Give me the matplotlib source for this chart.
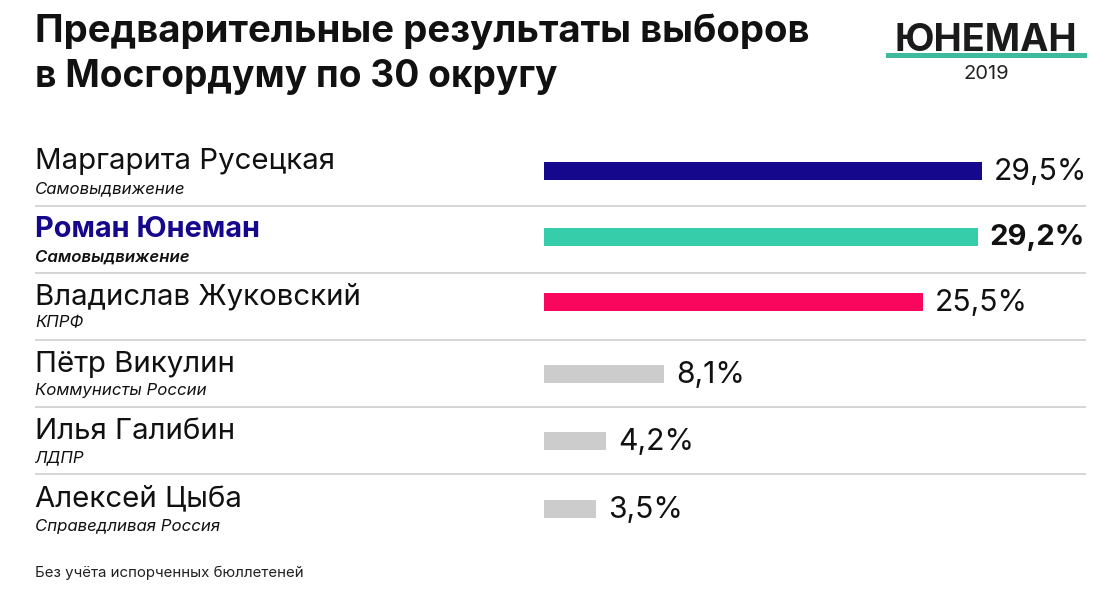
"""Preliminary election results, Moscow City Duma district 30."""
import matplotlib
matplotlib.use('Agg')
import matplotlib.pyplot as plt
from matplotlib.patches import Rectangle

plt.rcParams['font.family'] = ['Inter', 'DejaVu Sans']

candidates = ['Маргарита Русецкая', 'Роман Юнеман', 'Владислав Жуковский',
              'Пётр Викулин', 'Илья Галибин', 'Алексей Цыба']
parties = ['Самовыдвижение', 'Самовыдвижение', 'КПРФ',
           'Коммунисты России', 'ЛДПР', 'Справедливая Россия']
shares = [29.5, 29.2, 25.5, 8.1, 4.2, 3.5]
share_labels = ['29,5%', '29,2%', '25,5%', '8,1%', '4,2%', '3,5%']

W, H = 1116, 609
NAVY = '#16088c'
TEAL = '#36cdaa'
RED = '#f9075c'
GREY = '#cccccc'
INK = '#111111'
BAR_COLORS = [NAVY, TEAL, RED, GREY, GREY, GREY]

# layout in reference pixels
BAR_Y = [171, 236.5, 302, 373.5, 441, 509]
NAME_Y = [161.5, 229.5, 296.5, 364.5, 431.5, 498.5]
PARTY_Y = [189, 257, 323, 391, 458, 526]
RULE_Y = [206, 273, 340, 407, 474]
BAR_X0, BAR_X1 = 544, 982

fig = plt.figure(figsize=(W / 100, H / 100), dpi=100, facecolor='white')

# overlay in pixel coordinates for text and rules
bg = fig.add_axes([0, 0, 1, 1])
bg.set_xlim(0, W)
bg.set_ylim(H, 0)
bg.axis('off')

# bars on their own x scale (percent)
ax = fig.add_axes([BAR_X0 / W, 0, (BAR_X1 - BAR_X0) / W, 1])
ax.set_xlim(0, shares[0])
ax.set_ylim(H, 0)
ax.axis('off')
ax.patch.set_alpha(0)
ax.barh(BAR_Y, shares, height=18, color=BAR_COLORS, linewidth=0)

bg.text(35, 32, 'Предварительные результаты выборов', fontsize=27.6,
        fontweight='bold', va='center', color=INK)
bg.text(35, 77, 'в Мосгордуму по 30 округу', fontsize=26.7,
        fontweight='bold', va='center', color=INK)

for y in RULE_Y:
    bg.plot([35, 1086], [y, y], color='#d2d2d2', lw=1.3, solid_capstyle='butt')

for i, name in enumerate(candidates):
    hero = i == 1
    bg.text(35, NAME_Y[i], name, fontsize=20.8 if hero else 21.2, va='center',
            color=NAVY if hero else INK,
            fontweight='bold' if hero else 'normal')
    bg.text(35, PARTY_Y[i], parties[i], fontsize=12.1, va='center',
            style='italic', color=INK,
            fontweight='semibold' if hero else 'normal')
    # bar labels sit 12 px right of the bar end
    lx = BAR_X0 + (BAR_X1 - BAR_X0) * shares[i] / shares[0] + 12
    bg.text(lx, BAR_Y[i] + 1, share_labels[i], fontsize=21 if hero else 21.7,
            va='center', color=INK, fontweight='bold' if hero else 'normal')

# logo
bg.add_patch(Rectangle((886, 53), 201, 5, color='#3dbb9c', lw=0))
bg.text(986, 41, 'ЮНЕМАН', fontsize=27.3, ha='center', va='center',
        color='#1b1b1b', fontweight='bold', zorder=3)
bg.text(986, 74, '2019', fontsize=14.5, ha='center', va='center', color='#222222')

bg.text(35, 573, 'Без учёта испорченных бюллетеней', fontsize=10.85, va='center',
        color='#222222')

fig.savefig('out.png', dpi=100, facecolor='white')
